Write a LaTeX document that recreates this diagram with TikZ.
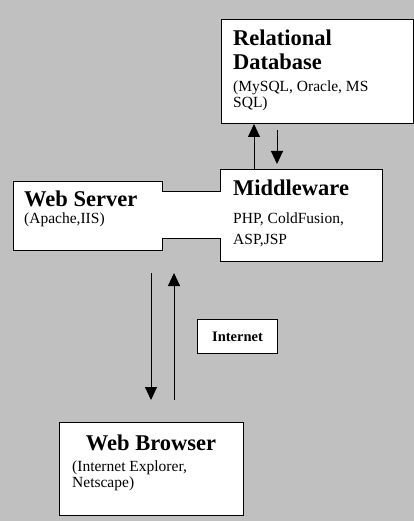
\documentclass[tikz,border=0pt]{standalone}
\usepackage{fontspec}
\setmainfont{Liberation Serif}
\usetikzlibrary{arrows.meta}
\definecolor{bggray}{HTML}{C0C0C0}
\begin{document}
\begin{tikzpicture}[x=1pt, y=-1pt,
  box/.style={draw, fill=white, line width=1pt, inner sep=0pt, anchor=north west},
  ttl/.style={font=\fontsize{22.5}{24}\selectfont\bfseries, anchor=base west, inner sep=0pt},
  sub/.style={font=\fontsize{15.5}{16}\selectfont, anchor=base west, inner sep=0pt},
  arr/.style={-{Triangle[length=13pt, width=12pt]}, line width=1pt}
]
\fill[bggray] (0,0) rectangle (414,521);
% boxes
\node[box, minimum width=192pt, minimum height=104pt] (db) at (221,19) {};
\node[box, minimum width=162pt, minimum height=92pt] (mw) at (220,169) {};
\node[box, minimum width=149pt, minimum height=69pt] (ws) at (13,181) {};
\node[box, minimum width=80pt, minimum height=34pt] (inet) at (197,319) {};
\node[box, minimum width=184pt, minimum height=93pt] (wb) at (59,422) {};
% link between web server and middleware
\fill[white] ([shift={(-1,11)}]ws.north east) rectangle ([shift={(1,69)}]mw.north west);
\draw[line width=1pt] ([shift={(0,11)}]ws.north east) -- ([shift={(0,23)}]mw.north west);
\draw[line width=1pt] ([shift={(0,57)}]ws.north east) -- ([shift={(0,69)}]mw.north west);
% texts
\node[ttl] (dbT1) at (233,46) {Relational};
\node[ttl] (dbT2) at (233,70) {Database};
\node[sub] (dbS1) at (233,92) {(MySQL, Oracle, MS};
\node[sub] (dbS2) at (233,108) {SQL)};
\node[ttl] (mwT) at (233,196) {Middleware};
\node[sub] (mwS1) at (233,223) {PHP, ColdFusion,};
\node[sub] (mwS2) at (233,244) {ASP,JSP};
\node[ttl] (wsT) at (24,206) {Web Server};
\node[sub] (wsS) at (24,223) {(Apache,IIS)};
\node[font=\fontsize{14.5}{16}\selectfont\bfseries, inner sep=0pt] (inetT) at (inet.center) {Internet};
\node[ttl, anchor=base] (wbT) at (151,450) {Web Browser};
\node[sub] (wbS1) at (72,471) {(Internet Explorer,};
\node[sub] (wbS2) at (72,487) {Netscape)};
% arrows
\draw[arr] ([shift={(34,0)}]mw.north west) -- ([shift={(33,0)}]db.south west);
\draw[arr] ([shift={(56,6)}]db.south west) -- ([shift={(57,-5)}]mw.north west);
\draw[arr] ([shift={(138,22)}]ws.south west) -- ([shift={(92,-22)}]wb.north west);
\draw[arr] ([shift={(115,-22)}]wb.north west) -- ([shift={(161,22)}]ws.south west);
\end{tikzpicture}
\end{document}
